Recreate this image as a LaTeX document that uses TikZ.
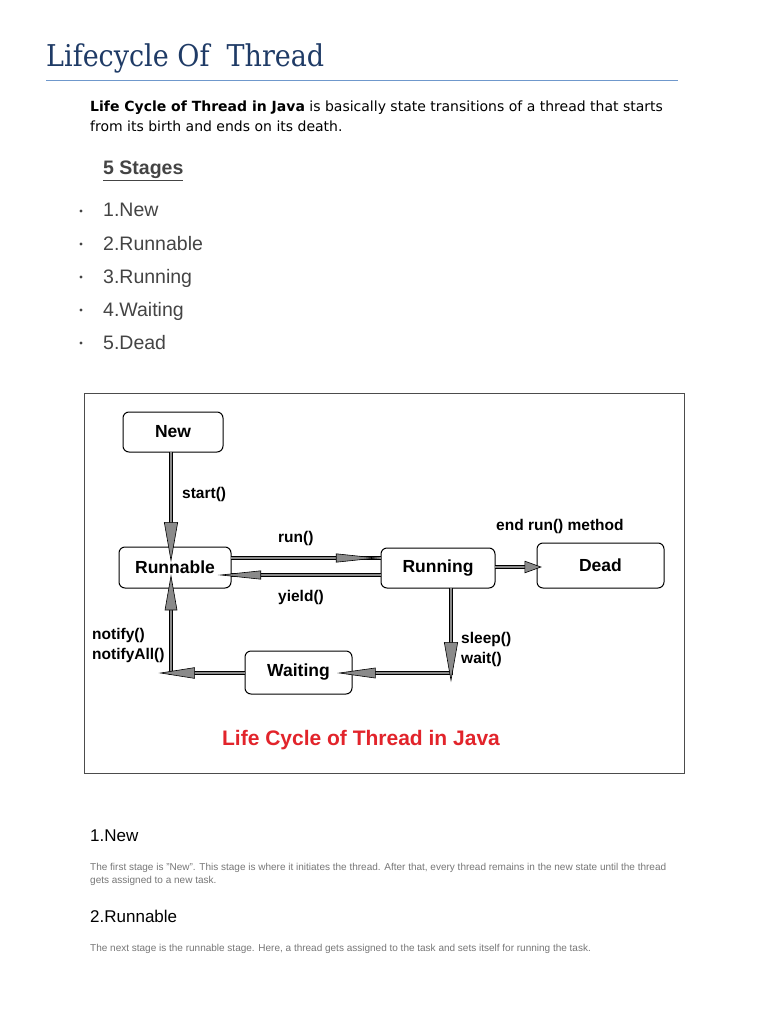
\documentclass[tikz,border=0pt]{standalone}
\usepackage{fontspec}
\setmainfont{Liberation Sans}
\newfontfamily\titlefont{DejaVu Serif Condensed}
\newfontfamily\dvs{DejaVu Sans}
\usetikzlibrary{shapes.geometric}
\definecolor{titleblue}{HTML}{1F3B66}
\definecolor{rulebl}{HTML}{6F98CC}
\definecolor{txtgray}{HTML}{444444}
\definecolor{smallgray}{HTML}{777777}
\definecolor{arrgray}{HTML}{8A8A8A}
\definecolor{jred}{HTML}{E2242B}
\begin{document}
\begin{tikzpicture}[x=1pt,y=-1pt,
  state/.style={draw=black,line width=1pt,rounded corners=6pt,inner sep=0pt,font=\fontsize{17.5}{17.5}\selectfont\bfseries},
  fat/.style={draw=black,line width=0.8pt,double=arrgray,double distance=2.6pt},
  head/.style={isosceles triangle,isosceles triangle apex angle=20,draw=black,fill=arrgray,inner sep=0pt,minimum height=30pt,line width=0.6pt},
  lbl/.style={font=\fontsize{15.5}{15.5}\selectfont\bfseries,inner sep=0pt,anchor=base west},
  item/.style={font=\fontsize{19.5}{19.5}\selectfont,text=txtgray,inner sep=0pt,anchor=base west},
  small/.style={font=\fontsize{10}{10}\selectfont,text=smallgray,inner sep=0pt,anchor=base west}]
\useasboundingbox (0,0) rectangle (768,1024);
\fill[white] (0,0) rectangle (768,1024);
% header
\node[font=\titlefont\fontsize{30}{30}\selectfont,text=titleblue,inner sep=0pt,anchor=base west] (title) at (46,67) {Lifecycle Of\ \ Thread};
\draw[rulebl,line width=0.8pt] (46,80) -- (678,80);
\node[font=\dvs\fontsize{14}{14}\selectfont,inner sep=0pt,anchor=base west] (p1) at (90,112) {\textbf{Life Cycle of Thread in Java} is basically state transitions of a thread that starts};
\node[font=\dvs\fontsize{14}{14}\selectfont,inner sep=0pt,anchor=base west] (p2) at (90,132) {from its birth and ends on its death.};
\node[font=\fontsize{19.5}{19.5}\selectfont\bfseries,text=txtgray,inner sep=0pt,anchor=base west] (st) at (103,175) {\underline{5 Stages}};
\foreach \t [count=\i] in {1.New,2.Runnable,3.Running,4.Waiting,5.Dead}{
  \node[item] (it\i) at (103,184+33*\i) {\t};
  \fill[txtgray] (81,178+33*\i) circle (1.6pt);
}
% diagram frame
\draw[line width=0.8pt,black!70] (84,393) rectangle (684,773);
\node[state,minimum width=100pt,minimum height=40pt] (new) at (173,432) {New};
\node[state,minimum width=112pt,minimum height=41pt] (runnable) at (175,567.5) {Runnable};
\node[state,minimum width=114pt,minimum height=40pt] (running) at (438,568) {Running};
\node[state,minimum width=127pt,minimum height=45pt] (dead) at (600.5,565.5) {Dead};
\node[state,minimum width=107pt,minimum height=43pt] (waiting) at (298.5,672.5) {Waiting};
% helper coordinates
\coordinate (nb) at (171,452);
\coordinate (rt) at (171,547);
\coordinate (rb) at (171,588);
\coordinate (rb2) at (231,558);
\coordinate (rb3) at (231,575);
\coordinate (rn2) at (381,558);
\coordinate (rn3) at (381,575);
\coordinate (rs) at (451,588);
\coordinate (c1) at (451,673);
\coordinate (c2) at (171,673);
\coordinate (we) at (352,673);
\coordinate (ww) at (245,673);
\coordinate (re) at (495,567);
\coordinate (dw) at (537,567);
% connectors
\draw[fat] (nb) -- (rt);
\node[head,shape border rotate=-90,minimum height=38pt] at (171,528) {};
\draw[fat] (rb2) -- (rn2);
\node[head,shape border rotate=0,minimum height=40pt,isosceles triangle apex angle=12] at (340,558) {};
\draw[fat] (rn3) -- (rb3);
\node[head,shape border rotate=180,minimum height=40pt,isosceles triangle apex angle=12] at (257,575) {};
\draw[fat] (re) -- (dw);
\node[head,shape border rotate=0,minimum height=16pt,isosceles triangle apex angle=40] at (529,567) {};
\draw[fat] (rs) -- (c1) -- (we);
\node[head,shape border rotate=-90,minimum height=38pt] at (451,648) {};
\node[head,shape border rotate=180,minimum height=36pt,isosceles triangle apex angle=16] at (371,673) {};
\draw[fat] (ww) -- (c2) -- (rb);
\node[head,shape border rotate=180,minimum height=34pt,isosceles triangle apex angle=18] at (190,673) {};
\node[head,shape border rotate=90,minimum height=34pt] at (171,605) {};
% labels
\node[lbl] (lstart) at (182,498) {start()};
\node[lbl] (lrun) at (278,542) {run()};
\node[lbl] (lyield) at (278,601) {yield()};
\node[lbl] (lend) at (496,530) {end run() method};
\node[lbl] (lsleep) at (461,643) {sleep()};
\node[lbl] (lwait) at (461,663) {wait()};
\node[lbl] (lnot) at (92,639) {notify()};
\node[lbl] (lnotall) at (92,659) {notifyAll()};
\node[font=\fontsize{21}{21}\selectfont\bfseries,text=jred,inner sep=0pt] (cap) at (361,740) {Life Cycle of Thread in Java};
% bottom text
\node[font=\fontsize{17}{17}\selectfont,inner sep=0pt,anchor=base west] (h1) at (90,841) {1.New};
\node[small] (s1) at (90,870) {The first stage is "New". This stage is where it initiates the thread. After that, every thread remains in the new state until the thread};
\node[small] (s2) at (90,883) {gets assigned to a new task.};
\node[font=\fontsize{17}{17}\selectfont,inner sep=0pt,anchor=base west] (h2) at (90,922) {2.Runnable};
\node[small] (s3) at (90,951) {The next stage is the runnable stage. Here, a thread gets assigned to the task and sets itself for running the task.};
\end{tikzpicture}
\end{document}
